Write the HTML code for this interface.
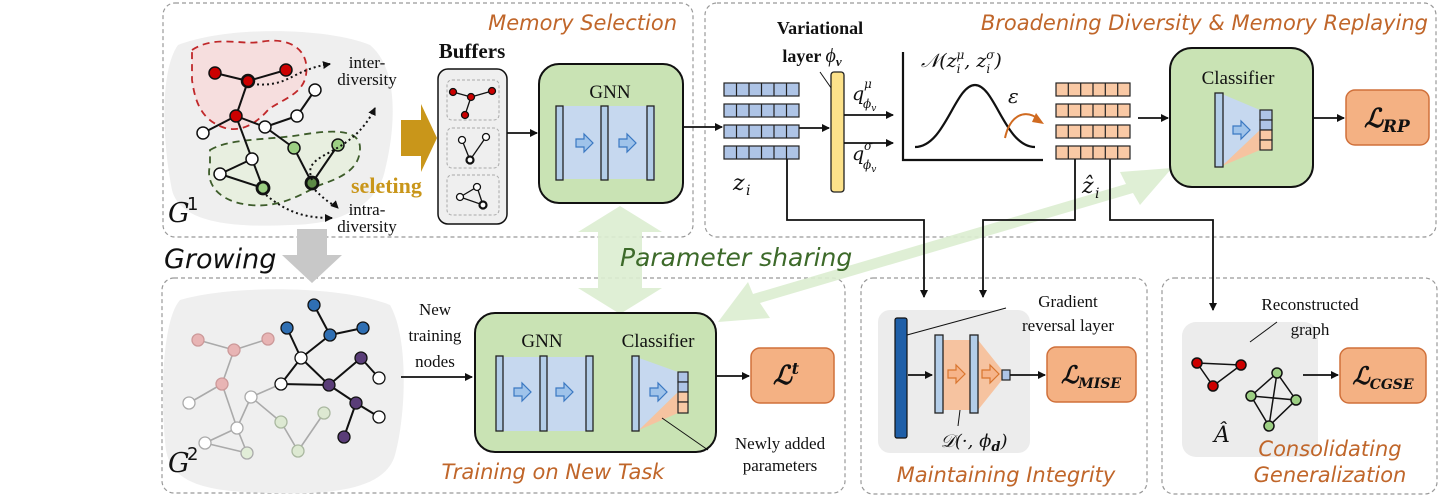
<!DOCTYPE html>
<html><head><meta charset="utf-8"><style>
html,body{margin:0;padding:0;background:#fff;}
svg{display:block}
.s{font-family:"Liberation Serif",serif;fill:#111}
.t{font-family:"DejaVu Sans","Liberation Sans",sans-serif;font-style:italic;fill:#c0662a}
.box{fill:none;stroke:#999;stroke-width:1.2;stroke-dasharray:4 3}
.ln{stroke:#111;stroke-width:1.8;fill:none}
</style></head><body>
<svg width="1440" height="499" viewBox="0 0 1440 499" xmlns="http://www.w3.org/2000/svg">
<defs>
<marker id="ah" markerWidth="8" markerHeight="8" refX="7" refY="4" orient="auto" markerUnits="userSpaceOnUse"><path d="M0,0 L8,4 L0,8 z" fill="#111"/></marker>
</defs>

<!-- section frames -->
<rect class="box" x="163" y="3" width="530" height="234" rx="12"/>
<rect class="box" x="705" y="3" width="731" height="234" rx="12"/>
<rect class="box" x="162" y="278" width="683" height="215" rx="12"/>
<rect class="box" x="861" y="278" width="286" height="216" rx="12"/>
<rect class="box" x="1162" y="278" width="275" height="216" rx="12"/>

<!-- green shared arrows -->
<path d="M620,206 L662,232 L642,232 L642,288 L662,288 L620,314 L578,288 L598,288 L598,232 L578,232 Z" fill="#dcedd0" opacity="0.9"/>
<path d="M1172,168 L1140,205 L1133,193 L760,303 L770,318 L718,322 L748,282 L753,294 L1126,184 L1120,172 Z" fill="#dcedd0" opacity="0.9"/>

<text x="620" y="266" font-size="25" font-family="DejaVu Sans,sans-serif" font-style="italic" fill="#3d6a2a">Parameter sharing</text>

<!-- G1 -->
<path d="M178,45 C230,25 330,28 370,45 C400,70 395,130 385,170 C378,205 340,225 290,225 C230,228 180,222 172,190 C162,140 160,70 178,45 Z" fill="#efefef"/>
<path d="M192,50 C215,35 240,45 260,42 C290,36 310,50 306,75 C303,95 280,100 268,110 C255,125 240,132 225,128 C200,120 195,100 192,80 Z" fill="#f6dede" stroke="#c0282a" stroke-width="1.8" stroke-dasharray="7 5"/>
<path d="M210,150 C230,138 270,140 300,135 C330,130 360,128 360,148 C360,170 340,178 320,185 C300,195 280,208 250,205 C220,202 205,185 210,165 Z" fill="#e8efe0" stroke="#3d5c2a" stroke-width="1.8" stroke-dasharray="7 5"/>
<g stroke="#111" stroke-width="2">
<line x1="215" y1="73" x2="248" y2="81"/><line x1="248" y1="81" x2="286" y2="70"/><line x1="248" y1="81" x2="236" y2="116"/>
<line x1="236" y1="116" x2="203" y2="133"/><line x1="236" y1="116" x2="265" y2="127"/><line x1="236" y1="116" x2="252" y2="159"/>
<line x1="265" y1="127" x2="297" y2="116"/><line x1="297" y1="116" x2="315" y2="90"/><line x1="265" y1="127" x2="294" y2="148"/>
<line x1="252" y1="159" x2="220" y2="174"/><line x1="220" y1="174" x2="263" y2="188"/><line x1="252" y1="159" x2="263" y2="188"/>
<line x1="312" y1="183" x2="338" y2="145"/><line x1="294" y1="148" x2="312" y2="183"/>
</g>
<g stroke="#111" stroke-width="1.5">
<circle cx="215" cy="73" r="6" fill="#c00"/><circle cx="248" cy="81" r="6" fill="#c00" stroke-width="2.5"/><circle cx="286" cy="70" r="6" fill="#c00"/><circle cx="236" cy="116" r="6" fill="#c00"/>
<circle cx="315" cy="90" r="6" fill="#fff"/><circle cx="297" cy="116" r="6" fill="#fff"/><circle cx="265" cy="127" r="6" fill="#fff"/><circle cx="203" cy="133" r="6" fill="#fff"/><circle cx="252" cy="159" r="6" fill="#fff"/><circle cx="220" cy="174" r="6" fill="#fff"/>
<circle cx="338" cy="145" r="6" fill="#9ccf83"/><circle cx="294" cy="148" r="6" fill="#9ccf83"/><circle cx="263" cy="188" r="6" fill="#9ccf83" stroke-width="2.8"/><circle cx="312" cy="183" r="6" fill="#5d8a46" stroke-width="2.8"/>
</g>
<g stroke="#111" stroke-width="2" stroke-dasharray="2 3" fill="none">
<path d="M252,84 C290,88 290,70 330,64" marker-end="url(#ah)"/>
<path d="M312,180 C300,150 350,160 375,108" marker-end="url(#ah)"/>
<path d="M315,190 C330,205 335,205 338,208" marker-end="url(#ah)"/>
<path d="M266,195 C290,215 310,218 332,218" marker-end="url(#ah)"/>
</g>
<text class="s" x="367" y="68" font-size="17" text-anchor="middle">inter-</text>
<text class="s" x="367" y="85" font-size="17" text-anchor="middle">diversity</text>
<text class="s" x="367" y="215" font-size="17" text-anchor="middle">intra-</text>
<text class="s" x="367" y="232" font-size="17" text-anchor="middle">diversity</text>
<text x="168" y="222" font-size="27" font-family="DejaVu Serif,serif" font-style="italic" fill="#111">G</text>
<text x="187" y="210" font-size="18" font-family="DejaVu Sans,sans-serif" fill="#111">1</text>
<text x="351" y="193" font-size="22" font-weight="bold" font-family="Liberation Serif,serif" fill="#c9961a">seleting</text>
<path d="M401,120 L421,120 L421,104 L437,138 L421,172 L421,156 L401,156 Z" fill="#c9961a"/>

<!-- Buffers -->
<text class="s" x="472" y="58" font-size="21" font-weight="bold" text-anchor="middle">Buffers</text>
<rect x="438" y="69" width="69" height="155" rx="10" fill="#efefef" stroke="#111" stroke-width="1.5"/>
<g fill="none" stroke="#aaa" stroke-dasharray="3 2"><rect x="447" y="80" width="52" height="40" rx="5"/><rect x="447" y="128" width="52" height="40" rx="5"/><rect x="447" y="175" width="52" height="40" rx="5"/></g>
<g stroke="#111" stroke-width="1.3">
<line x1="453" y1="92" x2="471" y2="97"/><line x1="471" y1="97" x2="492" y2="91"/><line x1="471" y1="97" x2="465" y2="115"/>
<circle cx="453" cy="92" r="3.5" fill="#c00"/><circle cx="471" cy="97" r="3.5" fill="#c00"/><circle cx="492" cy="91" r="3.5" fill="#c00"/><circle cx="465" cy="115" r="3.5" fill="#c00"/>
<line x1="462" y1="140" x2="470" y2="160"/><line x1="470" y1="160" x2="486" y2="137"/>
<circle cx="462" cy="140" r="3.5" fill="#fff"/><circle cx="486" cy="137" r="3.5" fill="#fff"/><circle cx="470" cy="160" r="3.5" fill="#fff" stroke-width="2.2"/>
<path d="M460,197 L477,187 L483,205 Z" fill="none"/>
<circle cx="460" cy="197" r="3.5" fill="#fff"/><circle cx="477" cy="187" r="3.5" fill="#fff"/><circle cx="483" cy="205" r="3.5" fill="#fff" stroke-width="2.2"/>
</g>
<line class="ln" x1="507" y1="133" x2="537" y2="133" marker-end="url(#ah)"/>

<!-- GNN top -->
<rect x="539" y="64" width="144" height="139" rx="20" fill="#c9e3b4" stroke="#111" stroke-width="2"/>
<text class="s" x="610" y="98" font-size="19" text-anchor="middle">GNN</text>
<rect x="560" y="106" width="95" height="73" fill="#c6d8ef"/>
<g fill="#b3cde8" stroke="#222" stroke-width="1.3"><rect x="556" y="106" width="7" height="74"/><rect x="601" y="106" width="7" height="74"/><rect x="647" y="106" width="7" height="74"/></g>
<g fill="#9fc3ea" stroke="#3a78c2" stroke-width="1.2"><path d="M576,139 L584,139 L584,134 L593,143 L584,152 L584,147 L576,147 Z"/><path d="M619,139 L627,139 L627,134 L636,143 L627,152 L627,147 L619,147 Z"/></g>
<line class="ln" x1="683" y1="127" x2="722" y2="127" marker-end="url(#ah)"/>

<!-- grids -->
<g stroke="#222" stroke-width="1.2">
<g fill="#aec4e6">
<rect x="724" y="83" width="75" height="13"/><rect x="724" y="104" width="75" height="13"/><rect x="724" y="125" width="75" height="13"/><rect x="724" y="146" width="75" height="13"/>
</g>
<path d="M736.5,83v13M749,83v13M761.5,83v13M774,83v13M786.5,83v13 M736.5,104v13M749,104v13M761.5,104v13M774,104v13M786.5,104v13 M736.5,125v13M749,125v13M761.5,125v13M774,125v13M786.5,125v13 M736.5,146v13M749,146v13M761.5,146v13M774,146v13M786.5,146v13"/>
<g fill="#f9c9a5">
<rect x="1056" y="83" width="74" height="13"/><rect x="1056" y="104" width="74" height="13"/><rect x="1056" y="125" width="74" height="13"/><rect x="1056" y="146" width="74" height="13"/>
</g>
<path d="M1068.3,83v13M1080.7,83v13M1093,83v13M1105.3,83v13M1117.7,83v13 M1068.3,104v13M1080.7,104v13M1093,104v13M1105.3,104v13M1117.7,104v13 M1068.3,125v13M1080.7,125v13M1093,125v13M1105.3,125v13M1117.7,125v13 M1068.3,146v13M1080.7,146v13M1093,146v13M1105.3,146v13M1117.7,146v13"/>
</g>
<text x="733" y="190" font-size="22" font-family="DejaVu Serif,serif" font-style="italic" fill="#111">z</text>
<text x="746" y="195" font-size="14" font-family="DejaVu Serif,serif" font-style="italic" fill="#111">i</text>
<text x="1082" y="193" font-size="22" font-family="DejaVu Serif,serif" font-style="italic" fill="#111">ẑ</text>
<text x="1095" y="198" font-size="14" font-family="DejaVu Serif,serif" font-style="italic" fill="#111">i</text>

<!-- variational -->
<text class="s" x="820" y="34" font-size="18" font-weight="bold" text-anchor="middle">Variational</text>
<text class="s" x="812" y="62" font-size="18" font-weight="bold" text-anchor="middle">layer <tspan font-weight="normal" font-style="italic" font-size="20">ϕ</tspan><tspan font-size="13" dy="4" font-style="italic">v</tspan></text>
<line x1="820" y1="72" x2="836" y2="95" stroke="#111" stroke-width="1"/>
<rect x="831" y="72" width="13" height="120" rx="3" fill="#fde28a" stroke="#222" stroke-width="1.3"/>
<line class="ln" x1="799" y1="128" x2="829" y2="128" marker-end="url(#ah)"/>
<line class="ln" x1="844" y1="115" x2="893" y2="115" marker-end="url(#ah)"/>
<line class="ln" x1="844" y1="143" x2="893" y2="143" marker-end="url(#ah)"/>
<text x="852" y="100" font-size="19" font-family="DejaVu Serif,serif" font-style="italic" fill="#111">q</text>
<text x="864" y="88" font-size="12" font-family="DejaVu Serif,serif" font-style="italic" fill="#111">μ</text>
<text x="863" y="108" font-size="12" font-family="DejaVu Serif,serif" font-style="italic" fill="#111">ϕ<tspan font-size="9" dy="3">v</tspan></text>
<text x="852" y="160" font-size="19" font-family="DejaVu Serif,serif" font-style="italic" fill="#111">q</text>
<text x="864" y="150" font-size="12" font-family="DejaVu Serif,serif" font-style="italic" fill="#111">σ</text>
<text x="863" y="169" font-size="12" font-family="DejaVu Serif,serif" font-style="italic" fill="#111">ϕ<tspan font-size="9" dy="3">v</tspan></text>

<!-- gaussian -->
<path d="M903,52 L903,160 L1043,160" stroke="#111" stroke-width="2.2" fill="none"/>
<path d="M915,147 C945,147 955,85 975,85 C995,85 1005,147 1035,147" stroke="#111" stroke-width="2.2" fill="none"/>
<text x="921" y="67" font-size="19" font-family="DejaVu Serif,serif" font-style="italic" fill="#111">𝒩(z<tspan font-size="12" dy="6">i</tspan><tspan font-size="12" dx="-4" dy="-14">μ</tspan><tspan dy="8">, z</tspan><tspan font-size="12" dy="6">i</tspan><tspan font-size="12" dx="-4" dy="-14">σ</tspan><tspan dy="8">)</tspan></text>
<text x="1008" y="103" font-size="20" font-family="DejaVu Serif,serif" font-style="italic" fill="#111">ε</text>
<path d="M1005,138 C1010,115 1025,108 1040,120" stroke="#d06a20" stroke-width="2" fill="none"/>
<path d="M1036,113 L1044,124 L1032,122 Z" fill="#d06a20"/>

<!-- classifier top -->
<line class="ln" x1="1138" y1="118" x2="1168" y2="118" marker-end="url(#ah)"/>
<rect x="1170" y="48" width="143" height="139" rx="22" fill="#c9e3b4" stroke="#111" stroke-width="2"/>
<text class="s" x="1238" y="84" font-size="19" text-anchor="middle">Classifier</text>
<path d="M1222,94 L1260,110 L1260,130 L1222,166 Z" fill="#c6d8ef"/>
<path d="M1260,130 L1260,150 L1222,166 Z" fill="#f6c3a0"/>
<rect x="1215" y="93" width="8" height="74" fill="#b3cde8" stroke="#222" stroke-width="1.3"/>
<path d="M1233,126 L1241,126 L1241,121 L1250,130 L1241,139 L1241,134 L1233,134 Z" fill="#9fc3ea" stroke="#3a78c2" stroke-width="1.2"/>
<g stroke="#222" stroke-width="1.2"><rect x="1260" y="110" width="12" height="10" fill="#aec4e6"/><rect x="1260" y="120" width="12" height="10" fill="#aec4e6"/><rect x="1260" y="130" width="12" height="10" fill="#f9c9a5"/><rect x="1260" y="140" width="12" height="10" fill="#f9c9a5"/></g>
<line class="ln" x1="1313" y1="118" x2="1344" y2="118" marker-end="url(#ah)"/>
<rect x="1346" y="90" width="83" height="55" rx="9" fill="#f4b183" stroke="#d0703a" stroke-width="1.5"/>
<text x="1387" y="127" font-size="26" font-weight="bold" font-style="italic" font-family="DejaVu Serif,serif" fill="#111" text-anchor="middle">ℒ<tspan font-size="17" dy="5">RP</tspan></text>

<!-- connectors down -->
<path class="ln" d="M787,159 L787,220 L924,220 L924,297" marker-end="url(#ah)"/>
<path class="ln" d="M1075,159 L1075,220 L983,220 L983,297" marker-end="url(#ah)"/>
<path class="ln" d="M1110,159 L1110,220 L1213,220 L1213,310" marker-end="url(#ah)"/>

<!-- Growing -->
<path d="M297,229 L327,229 L327,255 L342,255 L312,283 L282,255 L297,255 Z" fill="#c8c8c8"/>
<text x="164" y="268" font-size="27" font-family="DejaVu Sans,sans-serif" font-style="italic" fill="#111">Growing</text>

<!-- G2 -->
<path d="M180,300 C230,285 340,285 390,305 C410,340 405,420 395,455 C385,490 330,495 270,493 C210,492 172,485 166,450 C160,400 162,320 180,300 Z" fill="#efefef"/>
<g stroke="#aaa" stroke-width="1.6">
<line x1="198" y1="340" x2="234" y2="350"/><line x1="234" y1="350" x2="268" y2="339"/><line x1="234" y1="350" x2="222" y2="384"/>
<line x1="222" y1="384" x2="189" y2="403"/><line x1="222" y1="384" x2="237" y2="428"/><line x1="251" y1="397" x2="281" y2="384"/>
<line x1="251" y1="397" x2="237" y2="428"/><line x1="251" y1="397" x2="281" y2="422"/><line x1="237" y1="428" x2="205" y2="443"/>
<line x1="205" y1="443" x2="247" y2="453"/><line x1="237" y1="428" x2="247" y2="453"/><line x1="324" y1="413" x2="298" y2="451"/><line x1="281" y1="422" x2="298" y2="451"/>
</g>
<g stroke="#111" stroke-width="2">
<line x1="314" y1="305" x2="330" y2="335"/><line x1="330" y1="335" x2="363" y2="328"/><line x1="330" y1="335" x2="301" y2="358"/>
<line x1="287" y1="328" x2="301" y2="358"/><line x1="301" y1="358" x2="281" y2="384"/><line x1="301" y1="358" x2="329" y2="385"/>
<line x1="281" y1="384" x2="329" y2="385"/><line x1="329" y1="385" x2="361" y2="358"/><line x1="361" y1="358" x2="379" y2="378"/>
<line x1="329" y1="385" x2="356" y2="403"/><line x1="356" y1="403" x2="379" y2="417"/><line x1="356" y1="403" x2="344" y2="437"/>
</g>
<g stroke-width="1.3">
<g stroke="#c99"><circle cx="198" cy="340" r="6" fill="#e8b4b4"/><circle cx="234" cy="350" r="6" fill="#e8b4b4"/><circle cx="268" cy="339" r="6" fill="#e8b4b4"/><circle cx="222" cy="384" r="6" fill="#e8b4b4"/></g>
<g stroke="#aaa"><circle cx="189" cy="403" r="6" fill="#fff"/><circle cx="251" cy="397" r="6" fill="#fff"/><circle cx="237" cy="428" r="6" fill="#fff"/><circle cx="205" cy="443" r="6" fill="#fff"/><circle cx="247" cy="453" r="6" fill="#e2eed8"/></g>
<g stroke="#aab8a0"><circle cx="281" cy="422" r="6" fill="#dde9d2"/><circle cx="324" cy="413" r="6" fill="#dde9d2"/><circle cx="298" cy="451" r="6" fill="#dde9d2"/></g>
<g stroke="#111"><circle cx="314" cy="305" r="6" fill="#2f6fb3"/><circle cx="330" cy="335" r="6" fill="#2f6fb3"/><circle cx="363" cy="328" r="6" fill="#2f6fb3"/><circle cx="287" cy="328" r="6" fill="#2f6fb3"/>
<circle cx="301" cy="358" r="6" fill="#fff"/><circle cx="281" cy="384" r="6" fill="#fff"/><circle cx="379" cy="378" r="6" fill="#fff"/><circle cx="379" cy="417" r="6" fill="#fff"/>
<circle cx="361" cy="358" r="6" fill="#5a3d78"/><circle cx="329" cy="385" r="6" fill="#5a3d78"/><circle cx="356" cy="403" r="6" fill="#5a3d78"/><circle cx="344" cy="437" r="6" fill="#5a3d78"/></g>
</g>
<text x="168" y="472" font-size="27" font-family="DejaVu Serif,serif" font-style="italic" fill="#111">G</text>
<text x="187" y="460" font-size="18" font-family="DejaVu Sans,sans-serif" fill="#111">2</text>

<text class="s" x="435" y="315" font-size="17" text-anchor="middle">New</text>
<text class="s" x="435" y="341" font-size="17" text-anchor="middle">training</text>
<text class="s" x="435" y="367" font-size="17" text-anchor="middle">nodes</text>
<line class="ln" x1="401" y1="377" x2="472" y2="377" marker-end="url(#ah)"/>

<!-- training green box -->
<rect x="475" y="313" width="241" height="139" rx="20" fill="#c9e3b4" stroke="#111" stroke-width="2"/>
<text class="s" x="542" y="347" font-size="19" text-anchor="middle">GNN</text>
<text class="s" x="658" y="347" font-size="19" text-anchor="middle">Classifier</text>
<rect x="500" y="357" width="90" height="74" fill="#c6d8ef"/>
<g fill="#b3cde8" stroke="#222" stroke-width="1.3"><rect x="496" y="356" width="7" height="75"/><rect x="540" y="356" width="7" height="75"/><rect x="586" y="356" width="7" height="75"/></g>
<g fill="#9fc3ea" stroke="#3a78c2" stroke-width="1.2"><path d="M514,388 L522,388 L522,383 L531,392 L522,401 L522,396 L514,396 Z"/><path d="M556,388 L564,388 L564,383 L573,392 L564,401 L564,396 L556,396 Z"/></g>
<path d="M639,358 L678,372 L678,392 L639,430 Z" fill="#c6d8ef"/>
<path d="M678,392 L678,413 L639,430 Z" fill="#f6c3a0"/>
<rect x="632" y="356" width="7" height="75" fill="#b3cde8" stroke="#222" stroke-width="1.3"/>
<path d="M650,388 L658,388 L658,383 L667,392 L658,401 L658,396 L650,396 Z" fill="#9fc3ea" stroke="#3a78c2" stroke-width="1.2"/>
<g stroke="#222" stroke-width="1.2"><rect x="678" y="372" width="10" height="10" fill="#aec4e6"/><rect x="678" y="382" width="10" height="10" fill="#aec4e6"/><rect x="678" y="392" width="10" height="10" fill="#f9c9a5"/><rect x="678" y="402" width="10" height="11" fill="#f9c9a5"/></g>
<line x1="662" y1="418" x2="708" y2="450" stroke="#111" stroke-width="1"/>
<text class="s" x="780" y="449" font-size="17" text-anchor="middle">Newly added</text>
<text class="s" x="780" y="471" font-size="17" text-anchor="middle">parameters</text>
<line class="ln" x1="716" y1="376" x2="749" y2="376" marker-end="url(#ah)"/>
<rect x="751" y="348" width="83" height="55" rx="9" fill="#f4b183" stroke="#d0703a" stroke-width="1.5"/>
<text x="786" y="384" font-size="26" font-weight="bold" font-style="italic" font-family="DejaVu Serif,serif" fill="#111" text-anchor="middle">ℒ<tspan font-size="16" dy="-10">t</tspan></text>

<!-- Maintaining -->
<rect x="878" y="310" width="152" height="143" rx="12" fill="#ececec"/>
<rect x="895" y="318" width="12" height="120" rx="2" fill="#1f5fa8" stroke="#111" stroke-width="1.2"/>
<line x1="907" y1="335" x2="1006" y2="308" stroke="#111" stroke-width="1"/>
<path d="M943,340 L978,340 L1002,370 L1002,380 L978,410 L943,410 Z" fill="#f6c3a0"/>
<g fill="#b3cde8" stroke="#222" stroke-width="1.3"><rect x="935" y="335" width="8" height="78"/><rect x="970" y="335" width="8" height="78"/></g>
<g fill="#f6b48a" stroke="#d9752e" stroke-width="1.2"><path d="M948,370 L956,370 L956,365 L965,374 L956,383 L956,378 L948,378 Z"/><path d="M982,370 L990,370 L990,365 L999,374 L990,383 L990,378 L982,378 Z"/></g>
<rect x="1002" y="370" width="8" height="10" fill="#aec4e6" stroke="#222" stroke-width="1.2"/>
<line class="ln" x1="908" y1="375" x2="932" y2="375" marker-end="url(#ah)"/>
<line class="ln" x1="1010" y1="375" x2="1045" y2="375" marker-end="url(#ah)"/>
<line x1="960" y1="410" x2="958" y2="426" stroke="#111" stroke-width="1"/>
<text class="s" x="1068" y="307" font-size="17" text-anchor="middle">Gradient</text>
<text class="s" x="1068" y="331" font-size="17" text-anchor="middle">reversal layer</text>
<text x="974" y="447" font-size="18" font-family="DejaVu Serif,serif" font-style="italic" fill="#111" text-anchor="middle">𝒟(·, ϕ<tspan font-size="13" dy="4" font-weight="bold">d</tspan><tspan dy="-4">)</tspan></text>
<rect x="1047" y="347" width="89" height="55" rx="9" fill="#f4b183" stroke="#d0703a" stroke-width="1.5"/>
<text x="1091" y="383" font-size="24" font-weight="bold" font-style="italic" font-family="DejaVu Serif,serif" fill="#111" text-anchor="middle">ℒ<tspan font-size="14" dy="5">MISE</tspan></text>

<!-- Consolidating -->
<rect x="1182" y="322" width="136" height="135" rx="14" fill="#ececec"/>
<text class="s" x="1310" y="310" font-size="17" text-anchor="middle">Reconstructed</text>
<text class="s" x="1310" y="335" font-size="17" text-anchor="middle">graph</text>
<line x1="1250" y1="342" x2="1277" y2="322" stroke="#111" stroke-width="1"/>
<g stroke="#111" stroke-width="1.5">
<path d="M1197,363 L1241,365 L1213,386 Z" fill="none"/>
<path d="M1277,373 L1251,396 L1269,426 L1296,400 Z M1277,373 L1269,426 M1251,396 L1296,400" fill="none"/>
<circle cx="1197" cy="363" r="5" fill="#c00"/><circle cx="1241" cy="365" r="5" fill="#c00"/><circle cx="1213" cy="386" r="5" fill="#c00"/>
<circle cx="1277" cy="373" r="5" fill="#9ccf83"/><circle cx="1251" cy="396" r="5" fill="#9ccf83"/><circle cx="1296" cy="400" r="5" fill="#9ccf83"/><circle cx="1269" cy="426" r="5" fill="#9ccf83"/>
</g>
<text x="1222" y="442" font-size="22" font-family="DejaVu Serif,serif" font-style="italic" fill="#111" text-anchor="middle">Â</text>
<line class="ln" x1="1303" y1="375" x2="1338" y2="375" marker-end="url(#ah)"/>
<rect x="1340" y="348" width="86" height="55" rx="9" fill="#f4b183" stroke="#d0703a" stroke-width="1.5"/>
<text x="1383" y="384" font-size="24" font-weight="bold" font-style="italic" font-family="DejaVu Serif,serif" fill="#111" text-anchor="middle">ℒ<tspan font-size="14" dy="5">CGSE</tspan></text>

<!-- titles (on top) -->
<text class="t" x="677" y="30" font-size="21" text-anchor="end">Memory Selection</text>
<text class="t" x="1428" y="30" font-size="21" text-anchor="end">Broadening Diversity &amp; Memory Replaying</text>
<text class="t" x="553" y="479" font-size="21" text-anchor="middle">Training on New Task</text>
<text class="t" x="1006" y="482" font-size="21" text-anchor="middle">Maintaining Integrity</text>
<text class="t" x="1330" y="456" font-size="21" text-anchor="middle">Consolidating</text>
<text class="t" x="1330" y="482" font-size="21" text-anchor="middle">Generalization</text>
</svg>
</body></html>
